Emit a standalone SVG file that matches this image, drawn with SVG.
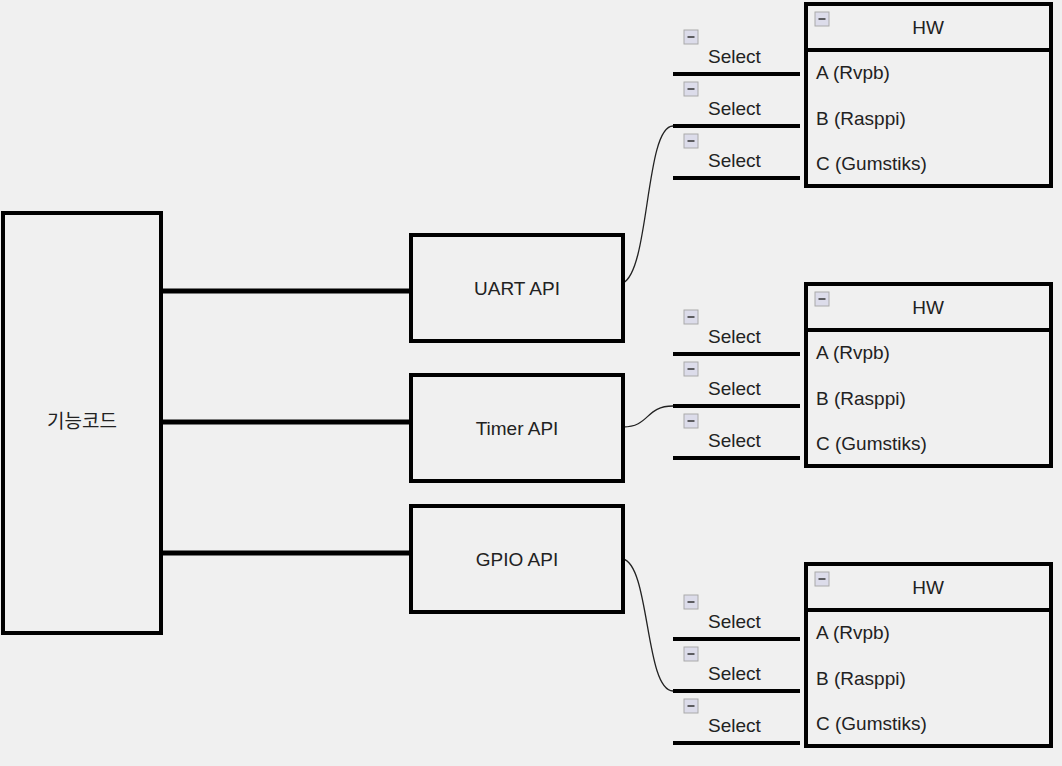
<svg xmlns="http://www.w3.org/2000/svg" width="1062" height="766" viewBox="0 0 1062 766">
<style>
text{font-family:"Liberation Sans",Arial,sans-serif;font-size:19px;fill:#222}
.box{fill:none;stroke:#000;stroke-width:4}
.thick{stroke:#000;stroke-width:5;fill:none}
.sel{stroke:#000;stroke-width:4}
.curve{stroke:#222;stroke-width:1.3;fill:none}
.mi{fill:#dcdcea;stroke:#aaa;stroke-width:1}
.mm{stroke:#333;stroke-width:1.5}
</style>
<defs>
<g id="minus"><rect class="mi" x="0" y="0" width="14" height="14"/><line class="mm" x1="3.5" y1="7" x2="10.5" y2="7"/></g>
<g id="hwbox">
<rect class="box" x="806" y="4" width="245" height="182"/>
<line class="box" x1="806" y1="50" x2="1051" y2="50"/>
<use href="#minus" x="815" y="12"/>
<text x="928" y="34" text-anchor="middle">HW</text>
<text x="816" y="79">A (Rvpb)</text>
<text x="816" y="125">B (Rasppi)</text>
<text x="816" y="170">C (Gumstiks)</text>
</g>
<g id="sels">
<use href="#minus" x="684" y="30"/><text x="708" y="63">Select</text><line class="sel" x1="673" y1="74" x2="800" y2="74"/>
<use href="#minus" x="684" y="82"/><text x="708" y="115">Select</text><line class="sel" x1="673" y1="126" x2="800" y2="126"/>
<use href="#minus" x="684" y="134"/><text x="708" y="167">Select</text><line class="sel" x1="673" y1="178" x2="800" y2="178"/>
</g>
</defs>
<rect width="1062" height="766" fill="#f0f0f0"/>
<g id="connectors">
<line class="thick" x1="161" y1="291" x2="411" y2="291"/>
<line class="thick" x1="161" y1="422" x2="411" y2="422"/>
<line class="thick" x1="161" y1="553" x2="411" y2="553"/>
<path class="curve" d="M623 283 C650 270 645 126 673 126"/>
<path class="curve" d="M623 427 C650 427 645 406 673 406"/>
<path class="curve" d="M623 559 C650 565 645 691 673 691"/>
</g>
<g id="main"><rect class="box" x="3" y="213" width="158" height="420"/><text x="82" y="428" text-anchor="middle" style="font-family:'Noto Sans CJK KR','Liberation Sans',sans-serif">기능코드</text></g>
<g id="uart"><rect class="box" x="411" y="235" width="212" height="106"/><text x="517" y="295" text-anchor="middle">UART API</text></g>
<g id="timer"><rect class="box" x="411" y="375" width="212" height="106"/><text x="517" y="435" text-anchor="middle">Timer API</text></g>
<g id="gpio"><rect class="box" x="411" y="506" width="212" height="106"/><text x="517" y="566" text-anchor="middle">GPIO API</text></g>
<g id="hw1"><use href="#hwbox"/><use href="#sels"/></g>
<g id="hw2"><use href="#hwbox" y="280"/><use href="#sels" y="280"/></g>
<g id="hw3"><use href="#hwbox" y="560"/><use href="#sels" y="565"/></g>
</svg>
